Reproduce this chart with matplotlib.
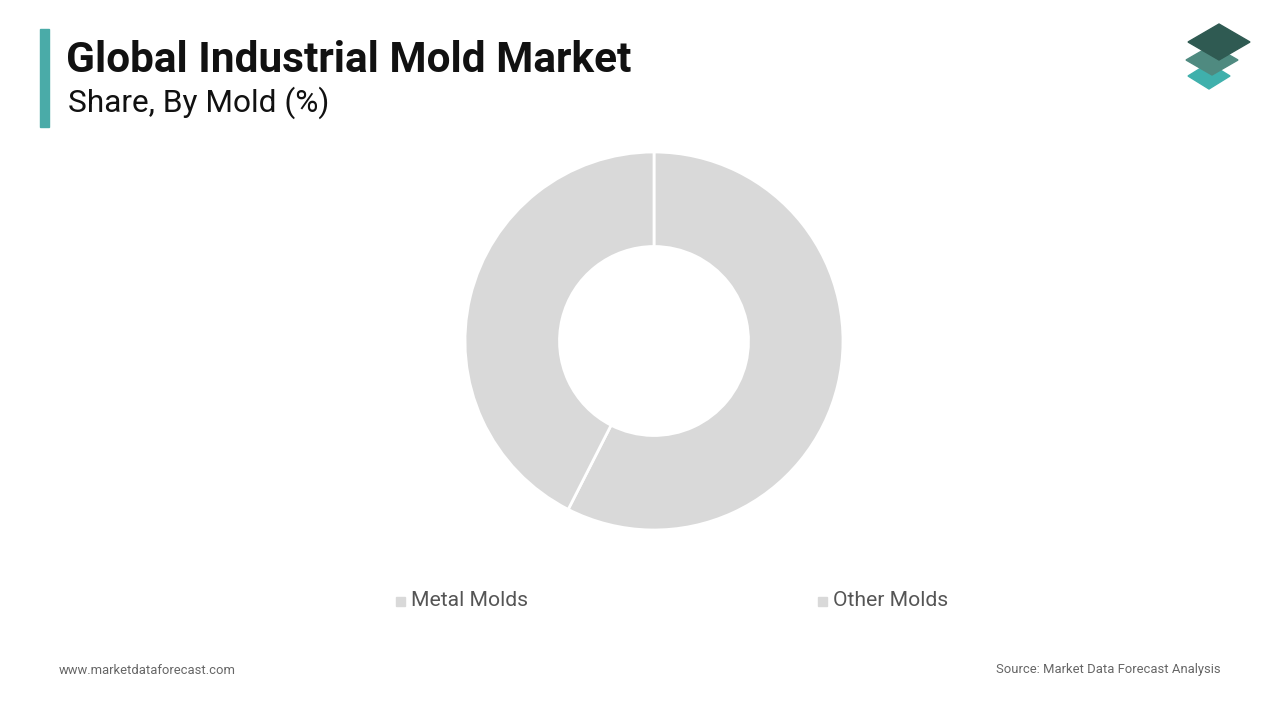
import matplotlib
matplotlib.use("Agg")
import matplotlib.pyplot as plt
from matplotlib.patches import Polygon, Rectangle

labels = ["Metal Molds", "Other Molds"]
shares = [57.5, 42.5]
colors = ["#d9d9d9", "#d9d9d9"]

W, H = 1280, 720
fig = plt.figure(figsize=(12.8, 7.2), dpi=100)
fig.patch.set_facecolor("white")

def fx(x): return x / W
def fy(y): return 1 - y / H

# title bar
fig.patches.append(Rectangle((fx(40), fy(127)), fx(9), 98 / H, transform=fig.transFigure,
                             color="#4aaba8", zorder=2))
fig.text(fx(66), fy(61), "Global Industrial Mold Market", fontsize=30.5, fontweight="bold",
         family="Roboto", va="center", ha="left", color="#111111")
fig.text(fx(68), fy(103), "Share, By Mold (%)", fontsize=22.8, family="Roboto",
         va="center", ha="left", color="#111111")

# logo
def diamond(cx, cy, w, h, c):
    pts = [(fx(cx - w), fy(cy)), (fx(cx), fy(cy - h)), (fx(cx + w), fy(cy)), (fx(cx), fy(cy + h))]
    fig.patches.append(Polygon(pts, closed=True, transform=fig.transFigure, color=c, zorder=3))
diamond(1209, 76, 21, 13, "#3fb0ac")
diamond(1212, 60, 26, 15, "#4f8a80")
diamond(1219, 42, 31, 18, "#2f5a52")

# donut
r = 189
ax = fig.add_axes([fx(654 - r), fy(341 + r), 2 * r / W, 2 * r / H])
ax.pie(shares, colors=colors, startangle=90, counterclock=False,
       wedgeprops=dict(width=0.5, edgecolor="white", linewidth=2), radius=1)
ax.set_xlim(-1, 1); ax.set_ylim(-1, 1)
ax.set_aspect("equal"); ax.axis("off")

# legend
for (x, lab) in zip([396, 818], labels):
    fig.patches.append(Rectangle((fx(x), fy(606)), 9 / W, 9 / H, transform=fig.transFigure,
                                 color=colors[0]))
    fig.text(fx(x + 15), fy(601), lab, fontsize=15.2, family="Roboto", color="#555555",
             va="center", ha="left")

fig.text(fx(59), fy(670), "www.marketdataforecast.com", fontsize=9.4, family="Roboto",
         color="#666666", va="center", ha="left")
fig.text(fx(1221), fy(670), "Source: Market Data Forecast Analysis", fontsize=9.4, family="Roboto",
         color="#666666", va="center", ha="right")

fig.savefig("out.png", dpi=100)
